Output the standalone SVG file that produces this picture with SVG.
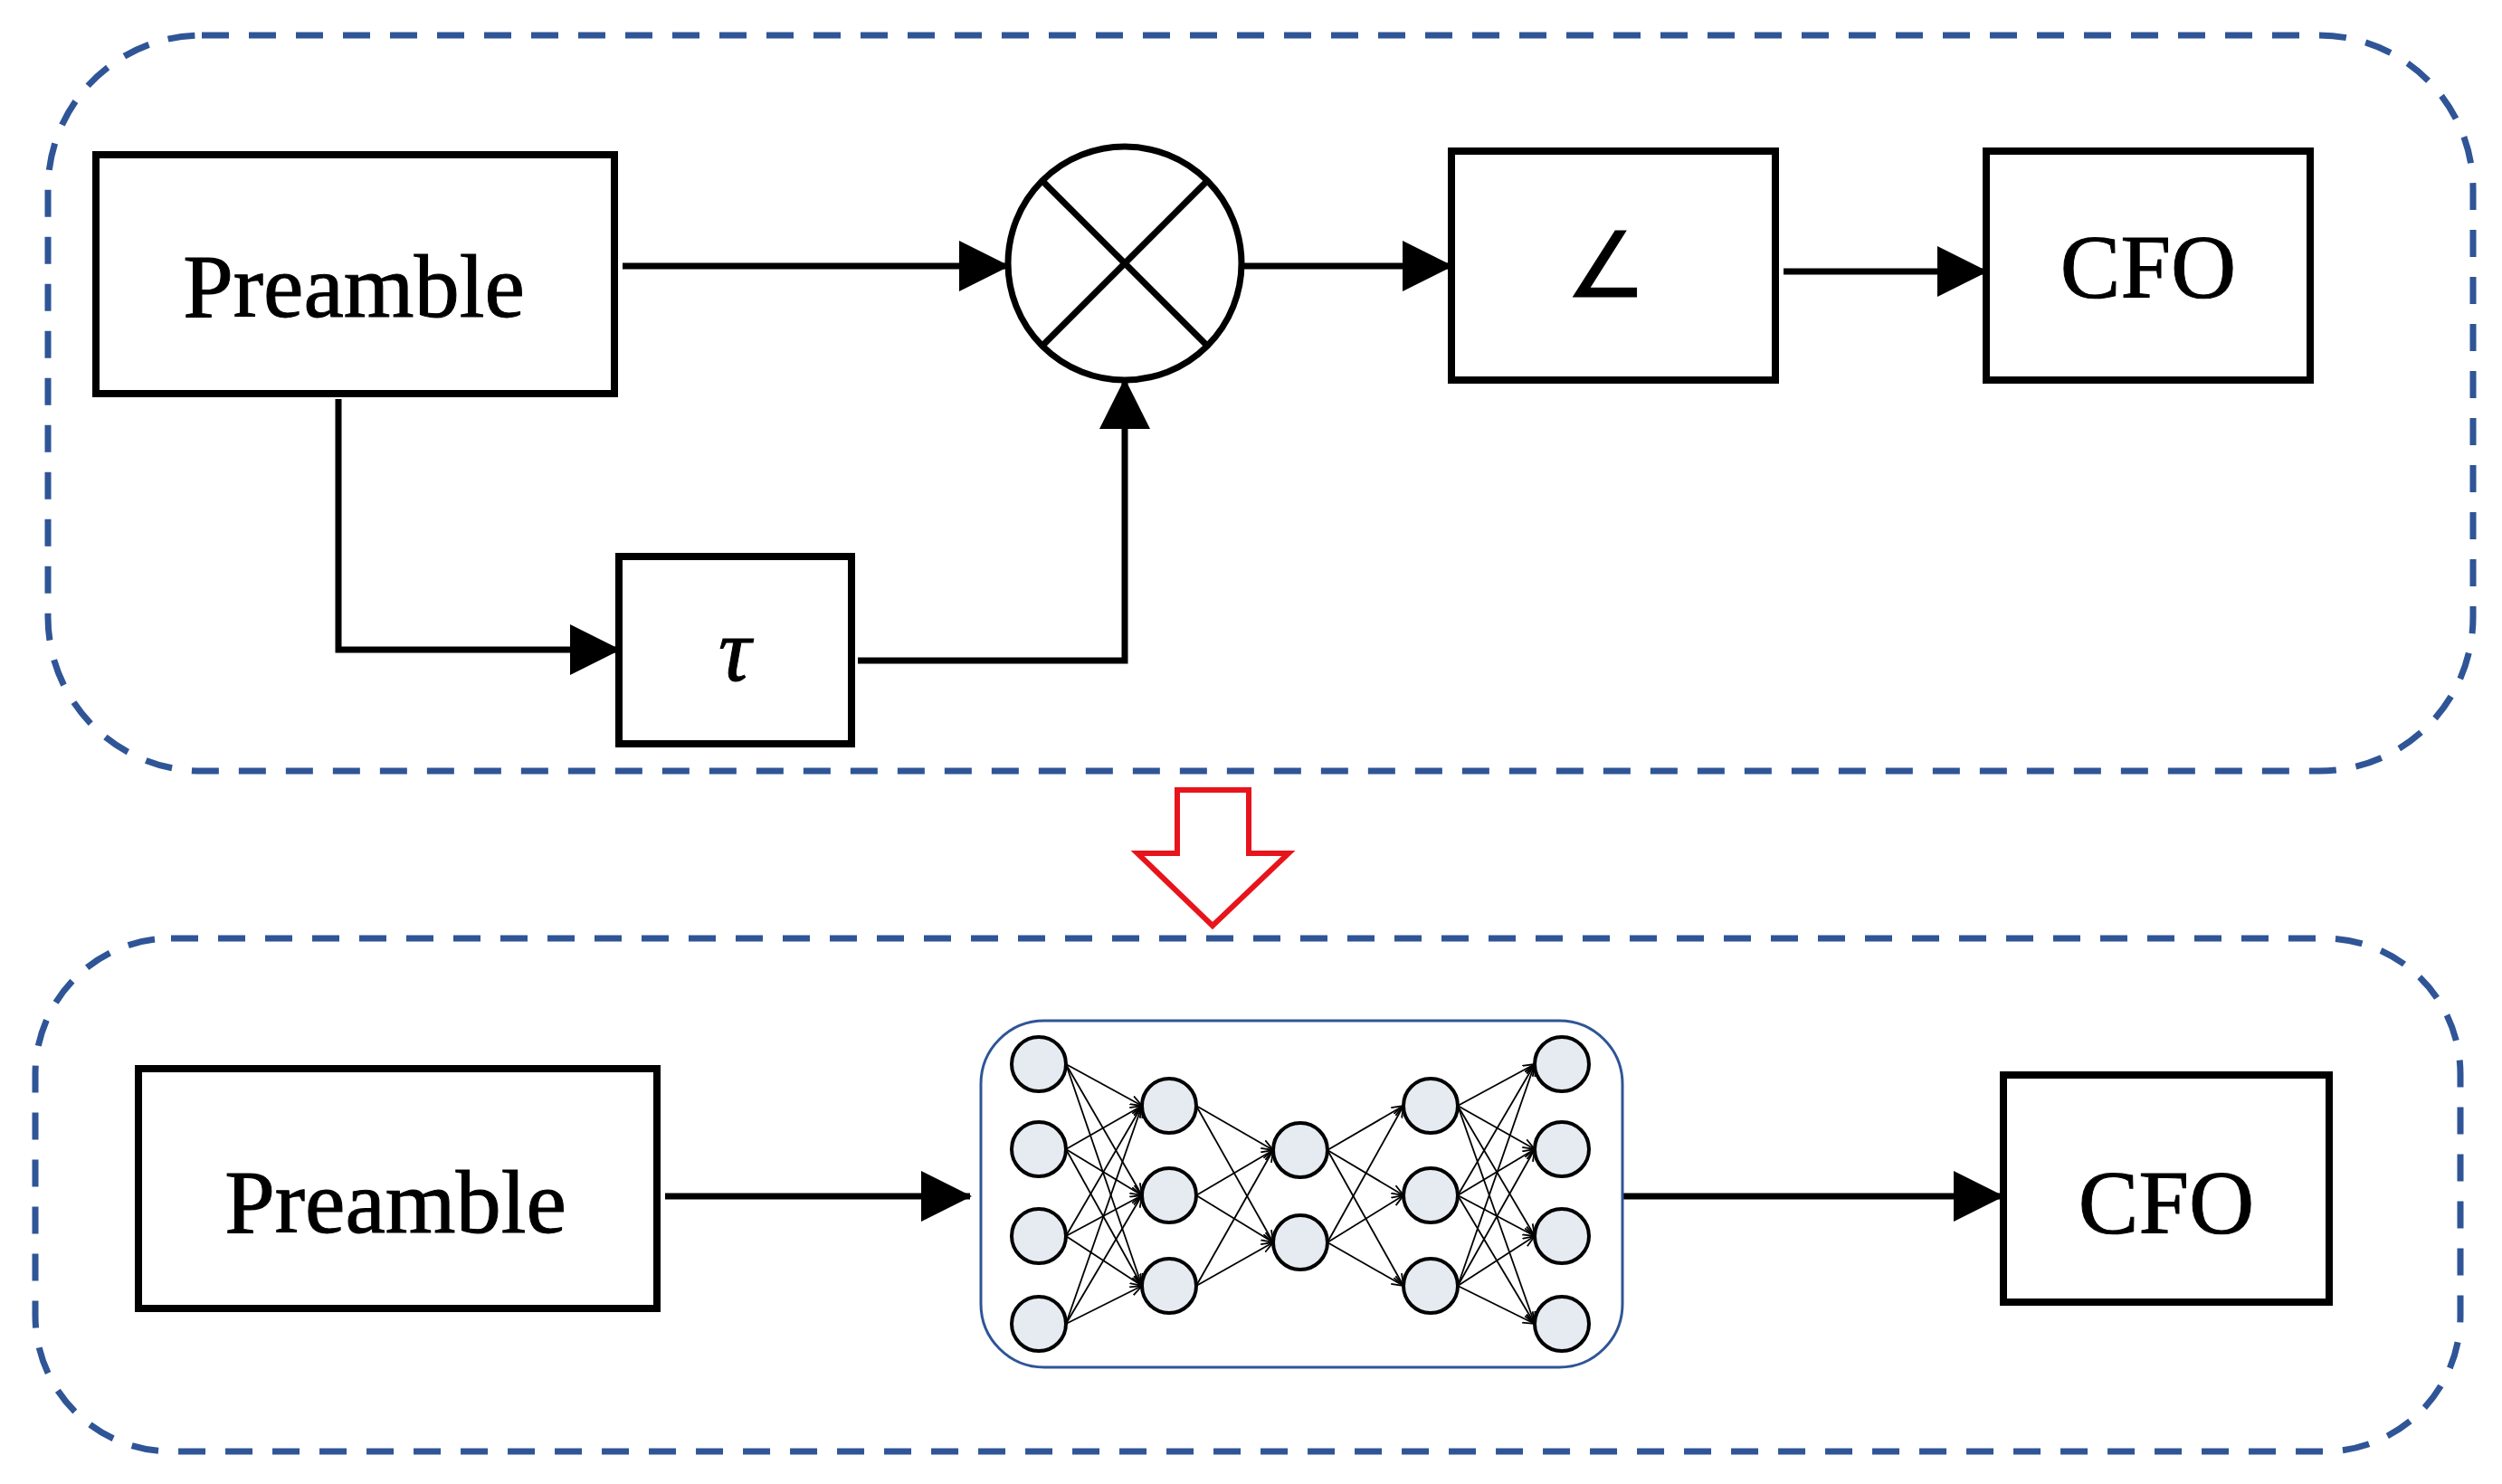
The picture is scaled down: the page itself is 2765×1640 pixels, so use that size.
<svg xmlns="http://www.w3.org/2000/svg" width="2765" height="1640" viewBox="0 0 2765 1640">
<style>
.dash{fill:none;stroke:#2f5597;stroke-width:7;stroke-dasharray:30 22}
.box{fill:#fff;stroke:#000;stroke-width:8}
.wire{fill:none;stroke:#000;stroke-width:7}
.t{font-family:"Liberation Serif","Times New Roman",serif;font-size:100px;text-anchor:middle;fill:#000;stroke:#000;stroke-width:1}
.n{fill:#e6ebf2;stroke:#000;stroke-width:4}
.e{stroke:#000;stroke-width:1.8;marker-end:url(#sa)}
</style>
<defs>
<marker id="big" markerUnits="userSpaceOnUse" markerWidth="56" markerHeight="56" refX="54" refY="28" orient="auto"><path d="M0,0 L56,28 L0,56 Z" fill="#000"/></marker>
<marker id="sa" markerUnits="userSpaceOnUse" markerWidth="14" markerHeight="12" refX="13" refY="6" orient="auto"><path d="M0,1 L13,6 L0,11" fill="none" stroke="#000" stroke-width="1.8"/></marker>
</defs>
<rect class="dash" x="53" y="39" width="2680" height="813" rx="170"/>
<rect class="dash" x="39" y="1037" width="2680" height="567" rx="150"/>
<g id="connectors">
<line class="wire" x1="688" y1="294" x2="1114" y2="294" marker-end="url(#big)"/>
<line class="wire" x1="1375" y1="294" x2="1604" y2="294" marker-end="url(#big)"/>
<line class="wire" x1="1971" y1="300" x2="2195" y2="300" marker-end="url(#big)"/>
<polyline class="wire" points="374,441 374,718 684,718" marker-end="url(#big)"/>
<polyline class="wire" points="948,730 1243,730 1243,420" marker-end="url(#big)"/>
<line class="wire" x1="735" y1="1322" x2="1072" y2="1322" marker-end="url(#big)"/>
<line class="wire" x1="1793" y1="1322" x2="2213" y2="1322" marker-end="url(#big)"/>
</g>
<g id="preamble1"><rect class="box" x="106" y="171" width="573" height="264"/><text class="t" x="391" y="350">Preamble</text></g>
<g id="mult"><circle cx="1243" cy="291" r="129" fill="#fff" stroke="#000" stroke-width="7"/><line class="wire" x1="1152" y1="200" x2="1334" y2="382"/><line class="wire" x1="1334" y1="200" x2="1152" y2="382"/></g>
<g id="angle"><rect class="box" x="1604" y="167" width="358" height="253"/><text class="t" x="1775" y="328">∠</text></g>
<g id="cfo1"><rect class="box" x="2195" y="167" width="358" height="253"/><text class="t" x="2374" y="328">CFO</text></g>
<g id="tau"><rect class="box" x="684" y="615" width="257" height="207"/><text class="t" x="812" y="752" font-style="italic">τ</text></g>
<g id="redarrow"><path d="M1301,873 L1380,873 L1380,943 L1424,943 L1340,1023 L1257,943 L1301,943 Z" fill="#fff" stroke="#e8141b" stroke-width="6"/></g>
<g id="preamble2"><rect class="box" x="153" y="1181" width="573" height="265"/><text class="t" x="437" y="1362">Preamble</text></g>
<g id="cfo2"><rect class="box" x="2214" y="1188" width="360" height="251"/><text class="t" x="2394" y="1362">CFO</text></g>
<g id="nn">
<rect x="1084" y="1128" width="709" height="383" rx="70" fill="#fff" stroke="#2f5597" stroke-width="3"/>
<g>
<line class="e" x1="1178" y1="1176" x2="1262" y2="1222"/><line class="e" x1="1178" y1="1176" x2="1262" y2="1321"/><line class="e" x1="1178" y1="1176" x2="1262" y2="1421"/>
<line class="e" x1="1178" y1="1270" x2="1262" y2="1222"/><line class="e" x1="1178" y1="1270" x2="1262" y2="1321"/><line class="e" x1="1178" y1="1270" x2="1262" y2="1421"/>
<line class="e" x1="1178" y1="1366" x2="1262" y2="1222"/><line class="e" x1="1178" y1="1366" x2="1262" y2="1321"/><line class="e" x1="1178" y1="1366" x2="1262" y2="1421"/>
<line class="e" x1="1178" y1="1463" x2="1262" y2="1222"/><line class="e" x1="1178" y1="1463" x2="1262" y2="1321"/><line class="e" x1="1178" y1="1463" x2="1262" y2="1421"/>
<line class="e" x1="1322" y1="1222" x2="1407" y2="1271"/><line class="e" x1="1322" y1="1222" x2="1407" y2="1373"/>
<line class="e" x1="1322" y1="1321" x2="1407" y2="1271"/><line class="e" x1="1322" y1="1321" x2="1407" y2="1373"/>
<line class="e" x1="1322" y1="1421" x2="1407" y2="1271"/><line class="e" x1="1322" y1="1421" x2="1407" y2="1373"/>
<line class="e" x1="1467" y1="1271" x2="1551" y2="1222"/><line class="e" x1="1467" y1="1271" x2="1551" y2="1321"/><line class="e" x1="1467" y1="1271" x2="1551" y2="1421"/>
<line class="e" x1="1467" y1="1373" x2="1551" y2="1222"/><line class="e" x1="1467" y1="1373" x2="1551" y2="1321"/><line class="e" x1="1467" y1="1373" x2="1551" y2="1421"/>
<line class="e" x1="1611" y1="1222" x2="1696" y2="1176"/><line class="e" x1="1611" y1="1222" x2="1696" y2="1270"/><line class="e" x1="1611" y1="1222" x2="1696" y2="1366"/><line class="e" x1="1611" y1="1222" x2="1696" y2="1463"/>
<line class="e" x1="1611" y1="1321" x2="1696" y2="1176"/><line class="e" x1="1611" y1="1321" x2="1696" y2="1270"/><line class="e" x1="1611" y1="1321" x2="1696" y2="1366"/><line class="e" x1="1611" y1="1321" x2="1696" y2="1463"/>
<line class="e" x1="1611" y1="1421" x2="1696" y2="1176"/><line class="e" x1="1611" y1="1421" x2="1696" y2="1270"/><line class="e" x1="1611" y1="1421" x2="1696" y2="1366"/><line class="e" x1="1611" y1="1421" x2="1696" y2="1463"/>
</g>
<circle class="n" cx="1148" cy="1176" r="30"/><circle class="n" cx="1148" cy="1270" r="30"/><circle class="n" cx="1148" cy="1366" r="30"/><circle class="n" cx="1148" cy="1463" r="30"/>
<circle class="n" cx="1292" cy="1222" r="30"/><circle class="n" cx="1292" cy="1321" r="30"/><circle class="n" cx="1292" cy="1421" r="30"/>
<circle class="n" cx="1437" cy="1271" r="30"/><circle class="n" cx="1437" cy="1373" r="30"/>
<circle class="n" cx="1581" cy="1222" r="30"/><circle class="n" cx="1581" cy="1321" r="30"/><circle class="n" cx="1581" cy="1421" r="30"/>
<circle class="n" cx="1726" cy="1176" r="30"/><circle class="n" cx="1726" cy="1270" r="30"/><circle class="n" cx="1726" cy="1366" r="30"/><circle class="n" cx="1726" cy="1463" r="30"/>
</g>
</svg>
